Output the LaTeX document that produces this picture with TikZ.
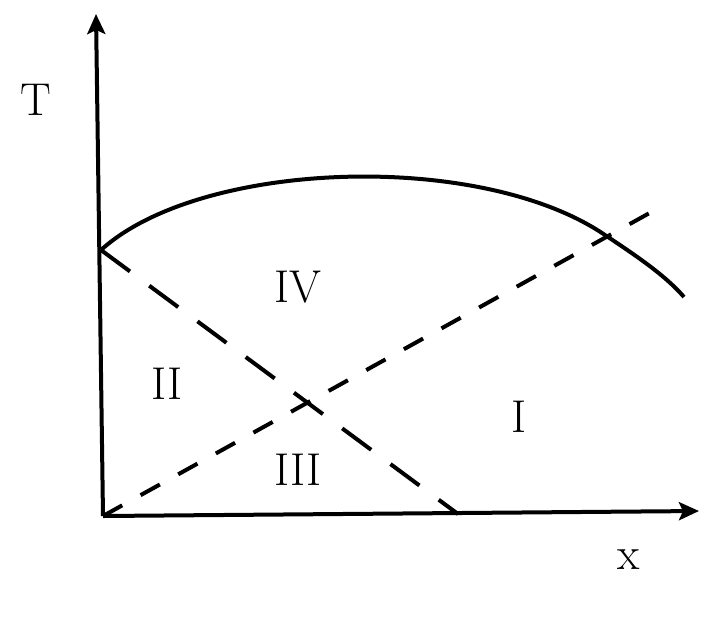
\documentclass[tikz,border=0pt]{standalone}
\usetikzlibrary{arrows.meta}
\begin{document}
\begin{tikzpicture}[x=1pt,y=-1pt,
  axis/.style={line width=4pt,-{Stealth[length=20pt,width=18pt,inset=4pt]}},
  lbl/.style={font=\fontsize{46}{48}\selectfont,inner sep=0pt},
  longdash/.style={line width=4pt,dash pattern=on 36pt off 24pt},
  shortdash/.style={line width=4pt,dash pattern=on 22pt off 21pt}]
\useasboundingbox (0,0) rectangle (714,641);
\coordinate (O) at (103,516);
\coordinate (Ytop) at (96,14);
\coordinate (Xend) at (699,511);
\coordinate (A) at (101,250);
\coordinate (B) at (458,514);
\coordinate (C) at (655,210);
\coordinate (P) at (605,235);
\coordinate (E) at (684,297);
\draw[axis] (O) -- (Ytop);
\draw[axis] (O) -- (Xend);
\draw[line width=4pt] (A) .. controls (200,160) and (480,150) .. (P)
  .. controls (635,255) and (665,275) .. (E);
\draw[longdash] (A) -- (B);
\draw[shortdash] (O) -- (C);
\node[lbl] (T) at (36,100) {T};
\node[lbl] (X) at (629,560) {x};
\node[lbl] (IV) at (298,287) {IV};
\node[lbl] (II) at (167,384) {II};
\node[lbl] (III) at (298,470) {III};
\node[lbl] (I) at (519,417) {I};
\end{tikzpicture}
\end{document}
